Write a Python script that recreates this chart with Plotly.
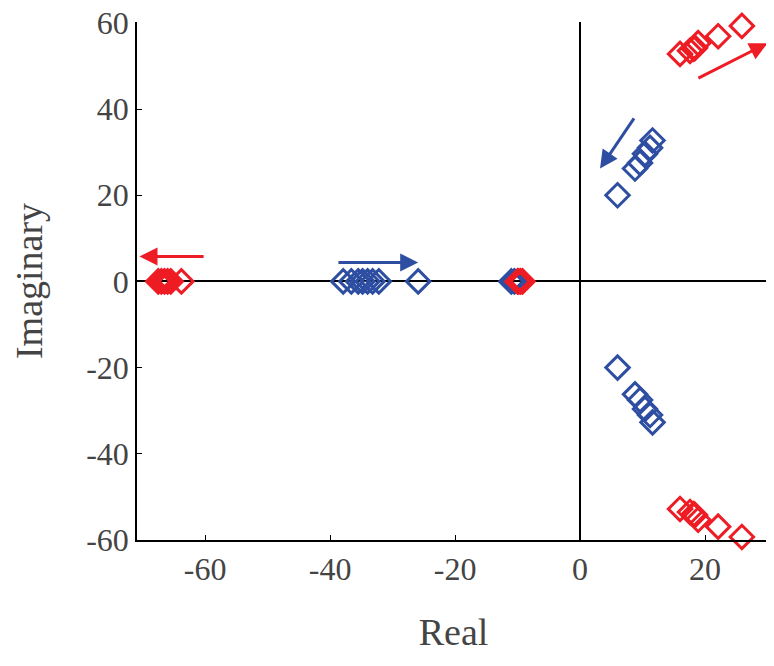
import plotly.graph_objects as go

# poles (upper half; lower half is the conjugate)
red_re = [-67.5, -67, -66.5, -66, -65.5, -63.8, -10, -9.8, -9.5, -9.2,
          16, 17.6, 18.2, 18.4, 18.9, 22.1, 25.9]
red_im = [0, 0, 0, 0, 0, 0, 0, 0, 0, 0,
          52.8, 53.5, 54, 54.2, 55.3, 56.9, 59.3]
blue_re = [-37.9, -36.6, -35.5, -34.8, -34, -33.2, -32.2, -25.9, -11, -10.5,
           6, 8.8, 9.6, 10.4, 11.2, 11.6]
blue_im = [0, 0, 0, 0, 0, 0, 0, 0, 0, 0,
           20, 26.2, 27.5, 29.6, 31, 32.7]

x_ticks = [-60, -40, -20, 0, 20]
y_ticks = [-60, -40, -20, 0, 20, 40, 60]

# arrows: (x_start, y_start, x_end, y_end, colour)
arrows = [(-60, 5.8, -70.5, 5.8, "#ee1c24"),
          (-38.9, 4.4, -25.9, 4.4, "#2e4ea2"),
          (8.8, 38.2, 3.2, 26.2, "#2e4ea2"),
          (18.7, 47, 30, 55.3, "#ee1c24")]

def full(re, im):
    xs = re + [r for r, i in zip(re, im) if i != 0]
    ys = im + [-i for i in im if i != 0]
    return xs, ys

fig = go.Figure()
for re, im, col in [(blue_re, blue_im, "#2e4ea2"), (red_re, red_im, "#ee1c24")]:
    xs, ys = full(re, im)
    fig.add_trace(go.Scatter(x=xs, y=ys, mode="markers", showlegend=False, cliponaxis=False,
                             marker=dict(symbol="diamond-open", size=18,
                                         color=col, line=dict(width=3, color=col))))

for x0, y0, x1, y1, col in arrows:
    fig.add_annotation(x=x1, y=y1, ax=x0, ay=y0, xref="x", yref="y",
                       axref="x", ayref="y", showarrow=True, text="",
                       arrowhead=2, arrowsize=1.2, arrowwidth=3, arrowcolor=col)

ax_style = dict(showline=True, linecolor="black", linewidth=1.5, mirror=False,
                ticks="inside", ticklen=5, tickcolor="black", showgrid=False,
                zeroline=True, zerolinecolor="black", zerolinewidth=2, automargin=False)
fig.update_layout(
    width=766, height=658, plot_bgcolor="white", paper_bgcolor="white",
    margin=dict(l=129, r=4, t=14, b=126),
    font=dict(family="Liberation Serif", size=32, color="#444"),
    xaxis=dict(range=[-70.9, 30.4], tickvals=x_ticks, ticktext=[str(v) for v in x_ticks],
               title=dict(text="Real", font=dict(size=38), standoff=32), **ax_style),
    yaxis=dict(range=[-60, 60.2], tickvals=y_ticks, ticktext=[str(v) for v in y_ticks],
               ticklabeloverflow="allow",
               title=dict(text="Imaginary", font=dict(size=38), standoff=34), **ax_style),
)
fig.write_html("out.html")
